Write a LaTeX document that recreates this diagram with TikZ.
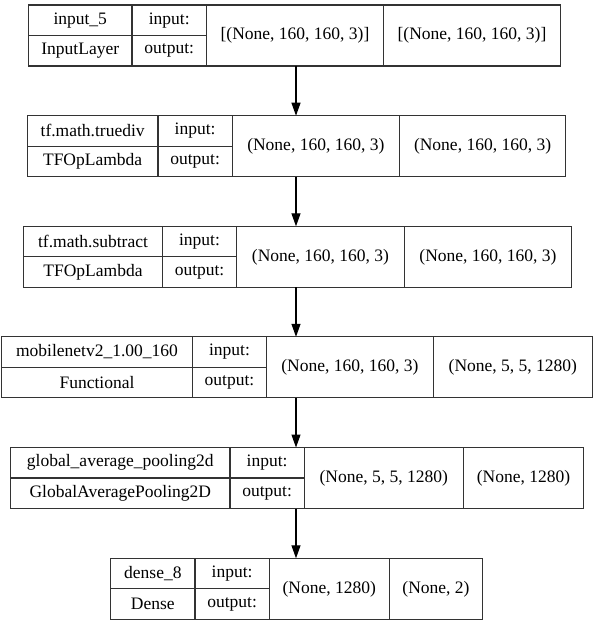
\documentclass[tikz,border=0pt]{standalone}
\usepackage{fontspec}
\setmainfont{Liberation Serif}
\usetikzlibrary{arrows.meta,positioning}
\definecolor{ink}{HTML}{333333}
\tikzset{
  >={Triangle[length=13pt,width=9pt]},
  every node/.style={font=\fontsize{17.5}{20}\selectfont,text=black},
  cell/.style={draw=ink,line width=1.2pt,inner sep=0pt,outer sep=0pt,minimum height=30.5pt,align=center},
  namecell/.style={cell},
  iocell/.style={cell,minimum width=74.3pt},
  shapecell/.style={cell,minimum height=61pt},
  arrow/.style={->,line width=1.2pt,draw=black},
}
\begin{document}
\begin{tikzpicture}[x=1pt,y=-1pt]
\useasboundingbox (0,0) rectangle (595,624);

\node[namecell,minimum width=103.5pt,anchor=north west] (L1name) at (28.5,5) {input\_5};
\node[namecell,minimum width=103.5pt,below=0pt of L1name] (L1cls) {InputLayer};
\node[iocell,minimum width=74.5pt,right=0pt of L1name] (L1in) {input:};
\node[iocell,minimum width=74.5pt,below=0pt of L1in] (L1out) {output:};
\node[shapecell,minimum width=177pt,right=0pt of L1in.north east,anchor=north west] (L1ish) {[(None, 160, 160, 3)]};
\node[shapecell,minimum width=177pt,right=0pt of L1ish] (L1osh) {[(None, 160, 160, 3)]};

\node[namecell,minimum width=130.7pt,anchor=north west] (L2name) at (27.3,115.7) {tf.math.truediv};
\node[namecell,minimum width=130.7pt,below=0pt of L2name] (L2cls) {TFOpLambda};
\node[iocell,right=0pt of L2name] (L2in) {input:};
\node[iocell,below=0pt of L2in] (L2out) {output:};
\node[shapecell,minimum width=167pt,right=0pt of L2in.north east,anchor=north west] (L2ish) {(None, 160, 160, 3)};
\node[shapecell,minimum width=166.5pt,right=0pt of L2ish] (L2osh) {(None, 160, 160, 3)};

\node[namecell,minimum width=138.8pt,anchor=north west] (L3name) at (23.6,226.3) {tf.math.subtract};
\node[namecell,minimum width=138.8pt,below=0pt of L3name] (L3cls) {TFOpLambda};
\node[iocell,right=0pt of L3name] (L3in) {input:};
\node[iocell,below=0pt of L3in] (L3out) {output:};
\node[shapecell,minimum width=167.5pt,right=0pt of L3in.north east,anchor=north west] (L3ish) {(None, 160, 160, 3)};
\node[shapecell,minimum width=167.5pt,right=0pt of L3ish] (L3osh) {(None, 160, 160, 3)};

\node[namecell,minimum width=190.6pt,anchor=north west] (L4name) at (1.7,336.8) {mobilenetv2\_1.00\_160};
\node[namecell,minimum width=190.6pt,below=0pt of L4name] (L4cls) {Functional};
\node[iocell,right=0pt of L4name] (L4in) {input:};
\node[iocell,below=0pt of L4in] (L4out) {output:};
\node[shapecell,minimum width=166.6pt,right=0pt of L4in.north east,anchor=north west] (L4ish) {(None, 160, 160, 3)};
\node[shapecell,minimum width=159.4pt,right=0pt of L4ish] (L4osh) {(None, 5, 5, 1280)};

\node[namecell,minimum width=219.4pt,anchor=north west] (L5name) at (10.6,447.5) {global\_average\_pooling2d};
\node[namecell,minimum width=219.4pt,below=0pt of L5name] (L5cls) {GlobalAveragePooling2D};
\node[iocell,right=0pt of L5name] (L5in) {input:};
\node[iocell,below=0pt of L5in] (L5out) {output:};
\node[shapecell,minimum width=159pt,right=0pt of L5in.north east,anchor=north west] (L5ish) {(None, 5, 5, 1280)};
\node[shapecell,minimum width=120.5pt,right=0pt of L5ish] (L5osh) {(None, 1280)};

\node[namecell,minimum width=84.3pt,anchor=north west] (L6name) at (110.7,558.3) {dense\_8};
\node[namecell,minimum width=84.3pt,below=0pt of L6name] (L6cls) {Dense};
\node[iocell,right=0pt of L6name] (L6in) {input:};
\node[iocell,below=0pt of L6in] (L6out) {output:};
\node[shapecell,minimum width=120pt,right=0pt of L6in.north east,anchor=north west] (L6ish) {(None, 1280)};
\node[shapecell,minimum width=93.4pt,right=0pt of L6ish] (L6osh) {(None, 2)};

\coordinate (axis) at (296,0);
\draw[arrow] (axis |- L1ish.south) -- (axis |- L2ish.north);
\draw[arrow] (axis |- L2ish.south) -- (axis |- L3ish.north);
\draw[arrow] (axis |- L3ish.south) -- (axis |- L4ish.north);
\draw[arrow] (axis |- L4ish.south) -- (axis |- L5ish.north);
\draw[arrow] (axis |- L5ish.south) -- (axis |- L6ish.north);

\end{tikzpicture}
\end{document}
